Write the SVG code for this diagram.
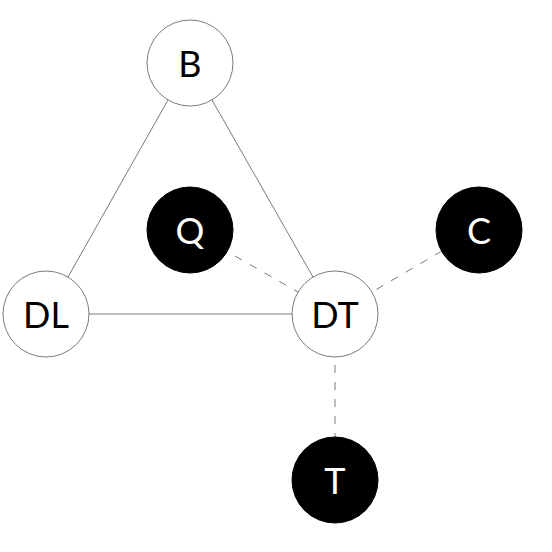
<svg xmlns="http://www.w3.org/2000/svg" width="552" height="552" viewBox="0 0 552 552">
<style>
.e{stroke:#7a7a7a;stroke-width:1;fill:none}
.d{stroke-dasharray:8 9}
.w{fill:#fff;stroke:#7a7a7a;stroke-width:1}
.b{fill:#000;stroke:#000;stroke-width:1}
.t{font-family:Lato,"Noto Sans",sans-serif;font-weight:400;font-size:36px;text-anchor:middle;dominant-baseline:central}
.tw{fill:#000}
.tb{fill:#fff}
</style>
<rect width="552" height="552" fill="#fff"/>
<g id="connectors">
<line class="e" x1="168" y1="100" x2="68" y2="277"/>
<line class="e" x1="212" y1="100" x2="313" y2="277"/>
<line class="e" x1="89" y1="314" x2="292" y2="314"/>
<line class="e d" x1="235" y1="256" x2="298" y2="292"/>
<line class="e d" x1="442" y1="251" x2="372" y2="292"/>
<line class="e d" x1="335" y1="365" x2="335" y2="437"/>
</g>
<g id="B"><circle class="w" cx="190" cy="63" r="43"/><text class="t tw" x="190" y="63">B</text></g>
<g id="Q"><circle class="b" cx="190" cy="230" r="43"/><text class="t tb" x="190" y="230">Q</text></g>
<g id="C"><circle class="b" cx="479" cy="230" r="43"/><text class="t tb" x="479" y="230">C</text></g>
<g id="DL"><circle class="w" cx="46" cy="314" r="43"/><text class="t tw" x="46" y="314">DL</text></g>
<g id="DT"><circle class="w" cx="335" cy="314" r="43"/><text class="t tw" x="335" y="314">DT</text></g>
<g id="T"><circle class="b" cx="335" cy="480" r="43"/><text class="t tb" x="335" y="480">T</text></g>
</svg>
